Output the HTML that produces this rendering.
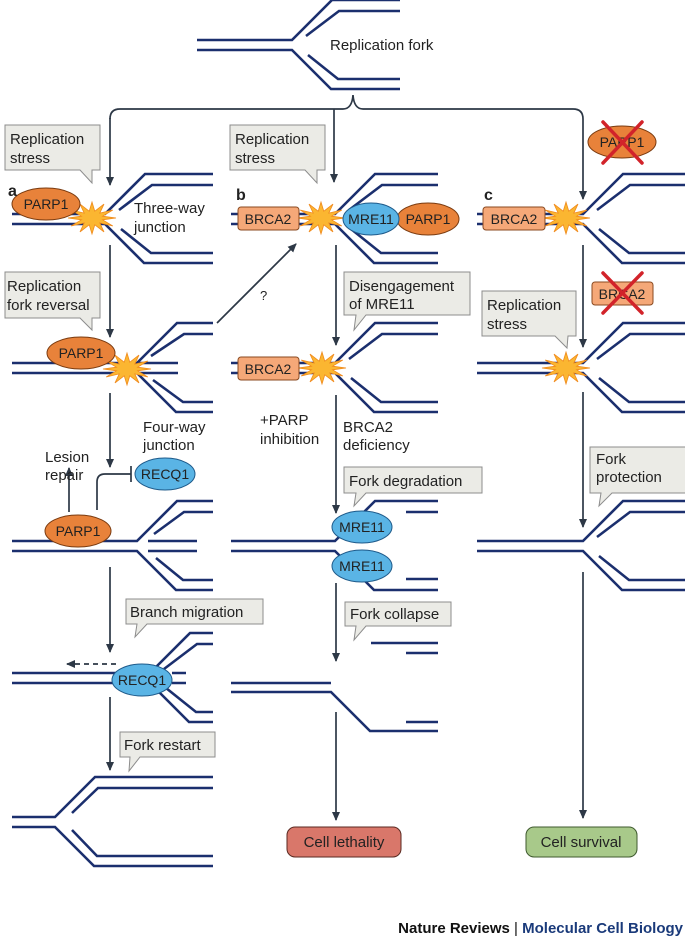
<!DOCTYPE html>
<html><head><meta charset="utf-8"><style>
html,body{margin:0;padding:0;background:#fff;}
svg{display:block;}
text{font-family:"Liberation Sans",sans-serif;fill:#222;}
</style></head><body>
<svg width="685" height="938" viewBox="0 0 685 938" xmlns="http://www.w3.org/2000/svg">
<defs>
<marker id="ah" markerWidth="10" markerHeight="10" refX="8" refY="5" orient="auto" markerUnits="userSpaceOnUse">
<path d="M0 1 L9 5 L0 9 Z" fill="#2d3846"/></marker>
<polygon id="star" points="24,0 10.6,1.8 20.8,8 7.8,4.9 12,13.9 2.8,6.8 0,16 -2.8,6.8 -12,13.9 -7.8,4.9 -20.8,8 -10.6,1.8 -24,0 -10.6,-1.8 -20.8,-8 -7.8,-4.9 -12,-13.9 -2.8,-6.8 0,-16 2.8,-6.8 12,-13.9 7.8,-4.9 20.8,-8 10.6,-1.8" fill="#fbb631" stroke="#f08a1c" stroke-width="0.8"/>
</defs>

<g fill="none" stroke="#1b2f6e" stroke-width="2.6" stroke-linejoin="miter">
<path d="M197 40 H292 L332 0 H400 M197 50 H292 L331 89 H400 M306 36 L339 11 H400 M308 55 L338 79 H400"/>
<path d="M12 214 H105 L145 174 H213 M12 224 H105 L144 263 H213 M119 210 L152 185 H213 M121 229 L151 253 H213"/>
<path d="M231 214 H335 L375 174 H438 M231 224 H335 L374 263 H438 M349 210 L382 185 H438 M351 229 L381 253 H438"/>
<path d="M477 214 H583 L623 174 H685 M477 224 H583 L622 263 H685 M597 210 L630 185 H685 M599 229 L629 253 H685"/>
<path d="M12 363 H178 M137 363 L177 323 H213 M12 373 H178 M137 373 L176 412 H213 M151 356 L184 334 H213 M153 380 L183 402 H213"/>
<path d="M231 363 H335 L375 323 H438 M231 373 H335 L374 412 H438 M349 359 L382 334 H438 M351 378 L381 402 H438"/>
<path d="M477 363 H583 L623 323 H685 M477 373 H583 L622 412 H685 M597 359 L630 334 H685 M599 378 L629 402 H685"/>
<path d="M12 541 H137 L177 501 H213 M12 551 H137 L176 590 H213 M148 541 H197 M148 551 H197 M154 534 L184 512 H213 M156 558 L183 580 H213"/>
<path d="M231 541 H335 L375 501 H438 M406 512 H438 M231 551 H335 L374 590 H438 M406 579 H438"/>
<path d="M477 541 H583 L623 501 H685 M477 551 H583 L622 590 H685 M597 537 L630 512 H685 M599 556 L629 580 H685"/>
<path d="M12 673 H150 L190 633 H213 M12 683 H150 L189 722 H213 M164 669 L197 644 H213 M166 688 L196 712 H213 M172 673 H186 M172 683 H186"/>
<path d="M371 643 H438 M406 653 H438 M231 683 H331 M231 692 H331 L370 731 H438 M406 722 H438"/>
<path d="M12 817 H55 L95 777 H213 M12 827 H55 L94 866 H213 M72 813 L98 788 H213 M72 830 L97 856 H213"/>
</g>

<g fill="none" stroke="#2d3846" stroke-width="1.7">
<path d="M110 119 Q110 109 120 109 H343 Q352 109 353 95 Q354 109 363 109 H573 Q583 109 583 119 V199" marker-end="url(#ah)"/>
<path d="M110 118 V185" marker-end="url(#ah)"/>
<path d="M334 109 V182" marker-end="url(#ah)"/>
<path d="M110 245 V337" marker-end="url(#ah)"/>
<path d="M336 245 V345" marker-end="url(#ah)"/>
<path d="M583 245 V347" marker-end="url(#ah)"/>
<path d="M217 323 L296 244" marker-end="url(#ah)"/>
<path d="M110 393 V467" marker-end="url(#ah)"/>
<path d="M336 395 V513" marker-end="url(#ah)"/>
<path d="M583 392 V527" marker-end="url(#ah)"/>
<path d="M69 512 V468" marker-end="url(#ah)"/>
<path d="M97 510 V482 Q97 474 105 474 H131"/>
<path d="M131 466 V482"/>
<path d="M110 567 V652" marker-end="url(#ah)"/>
<path d="M336 583 V661" marker-end="url(#ah)"/>
<path d="M583 572 V818" marker-end="url(#ah)"/>
<path d="M116 664 H67" stroke-dasharray="5 4" marker-end="url(#ah)"/>
<path d="M110 697 V770" marker-end="url(#ah)"/>
<path d="M336 712 V820" marker-end="url(#ah)"/>
</g>

<use href="#star" x="92" y="218"/>
<use href="#star" x="321" y="218"/>
<use href="#star" x="566" y="218"/>
<use href="#star" x="127" y="369"/>
<use href="#star" x="322" y="368"/>
<use href="#star" x="566" y="368"/>

<g fill="#ebebe6" stroke="#8c8c8c" stroke-width="1">
<path d="M5 125 H100 V170 H92 L92 183 L80 170 H5 Z"/>
<path d="M230 125 H325 V170 H317 L317 183 L305 170 H230 Z"/>
<path d="M5 272 H100 V318 H92 L92 330 L80 318 H5 Z"/>
<path d="M344 272 H470 V315 H366 L354 330 L356 315 H344 Z"/>
<path d="M482 291 H576 V336 H568 L567 348 L555 336 H482 Z"/>
<path d="M344 467 H482 V493 H366 L354 506 L356 493 H344 Z"/>
<path d="M590 447 H690 V493 H612 L599 506 L601 493 H590 Z"/>
<path d="M126 599 H263 V624 H147 L135 637 L137 624 H126 Z"/>
<path d="M345 602 H451 V626 H366 L354 640 L356 626 H345 Z"/>
<path d="M120 732 H215 V757 H140 L129 771 L130 757 H120 Z"/>
</g>

<g stroke-width="1">
<ellipse cx="46" cy="204" rx="34" ry="16" fill="#e8823a" stroke="#7a3b10"/>
<rect x="238" y="207" width="61" height="23" rx="3" fill="#f5a878" stroke="#8a4a20"/>
<ellipse cx="428" cy="219" rx="31" ry="16" fill="#e8823a" stroke="#7a3b10"/>
<ellipse cx="371" cy="219" rx="28" ry="16" fill="#5ab4e5" stroke="#1e5a8a"/>
<rect x="483" y="207" width="62" height="23" rx="3" fill="#f5a878" stroke="#8a4a20"/>
<ellipse cx="622" cy="142" rx="34" ry="16" fill="#e8823a" stroke="#7a3b10"/>
<rect x="592" y="282" width="61" height="23" rx="3" fill="#f5a878" stroke="#8a4a20"/>
<ellipse cx="81" cy="353" rx="34" ry="16" fill="#e8823a" stroke="#7a3b10"/>
<rect x="238" y="357" width="61" height="23" rx="3" fill="#f5a878" stroke="#8a4a20"/>
<ellipse cx="165" cy="474" rx="30" ry="16" fill="#5ab4e5" stroke="#1e5a8a"/>
<ellipse cx="78" cy="531" rx="33" ry="16" fill="#e8823a" stroke="#7a3b10"/>
<ellipse cx="362" cy="527" rx="30" ry="16" fill="#5ab4e5" stroke="#1e5a8a"/>
<ellipse cx="362" cy="566" rx="30" ry="16" fill="#5ab4e5" stroke="#1e5a8a"/>
<ellipse cx="142" cy="680" rx="30" ry="16" fill="#5ab4e5" stroke="#1e5a8a"/>
<rect x="287" y="827" width="114" height="30" rx="8" fill="#d9776a" stroke="#5a2a22"/>
<rect x="526" y="827" width="111" height="30" rx="8" fill="#a8c98a" stroke="#3f5a2f"/>
</g>

<g font-size="14" text-anchor="middle">
<text x="46" y="209">PARP1</text>
<text x="268" y="224">BRCA2</text>
<text x="371" y="224">MRE11</text>
<text x="428" y="224">PARP1</text>
<text x="514" y="224">BRCA2</text>
<text x="622" y="147">PARP1</text>
<text x="622" y="299">BRCA2</text>
<text x="81" y="358">PARP1</text>
<text x="268" y="374">BRCA2</text>
<text x="165" y="479">RECQ1</text>
<text x="78" y="536">PARP1</text>
<text x="362" y="532">MRE11</text>
<text x="362" y="571">MRE11</text>
<text x="142" y="685">RECQ1</text>
<text x="344" y="847" font-size="15">Cell lethality</text>
<text x="581" y="847" font-size="15">Cell survival</text>
</g>

<g stroke="#d2232a" stroke-width="3.5" stroke-linecap="round">
<path d="M603 122 L642 163 M642 122 L603 163"/>
<path d="M603 273 L642 313 M642 273 L603 313"/>
</g>

<g font-size="15">
<text x="330" y="50">Replication fork</text>
<text x="10" y="144">Replication</text><text x="10" y="163">stress</text>
<text x="235" y="144">Replication</text><text x="235" y="163">stress</text>
<text x="134" y="213">Three-way</text><text x="134" y="232">junction</text>
<text x="7" y="291">Replication</text><text x="7" y="310">fork reversal</text>
<text x="349" y="291">Disengagement</text><text x="349" y="309">of MRE11</text>
<text x="487" y="310">Replication</text><text x="487" y="329">stress</text>
<text x="260" y="300" font-size="13">?</text>
<text x="143" y="432">Four-way</text><text x="143" y="450">junction</text>
<text x="260" y="425">+PARP</text><text x="260" y="444">inhibition</text>
<text x="343" y="432">BRCA2</text><text x="343" y="450">deficiency</text>
<text x="45" y="462">Lesion</text><text x="45" y="480">repair</text>
<text x="349" y="486">Fork degradation</text>
<text x="596" y="464">Fork</text><text x="596" y="482">protection</text>
<text x="130" y="617">Branch migration</text>
<text x="350" y="619">Fork collapse</text>
<text x="124" y="750">Fork restart</text>
<text x="8" y="196" font-weight="bold" font-size="16">a</text>
<text x="236" y="200" font-weight="bold" font-size="16">b</text>
<text x="484" y="200" font-weight="bold" font-size="16">c</text>
</g>

<text x="683" y="933" font-size="15" text-anchor="end" font-weight="bold"><tspan fill="#111">Nature Reviews</tspan><tspan fill="#111" font-weight="normal"> | </tspan><tspan fill="#1a3a7a">Molecular Cell Biology</tspan></text>
</svg>
</body></html>
